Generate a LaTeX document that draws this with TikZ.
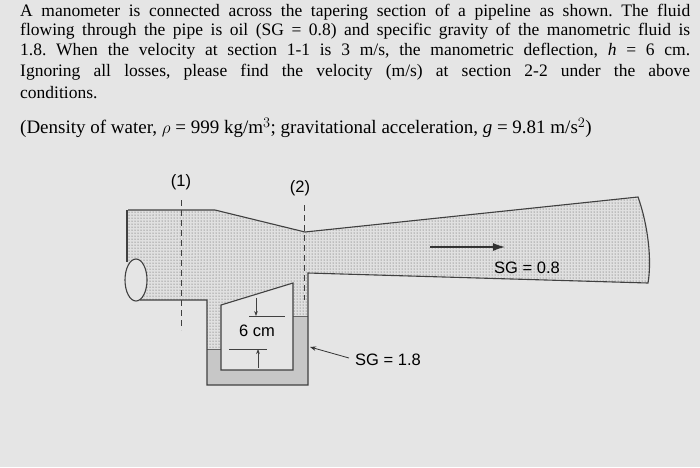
\documentclass[tikz,border=0pt]{standalone}
\usepackage{fontspec}
\setmainfont{Liberation Serif}
\setsansfont{Liberation Sans}
\usetikzlibrary{patterns,arrows.meta}
\begin{document}
\frenchspacing
\begin{tikzpicture}[x=1pt,y=-1pt,
  txt/.style={anchor=west,inner sep=0pt,font=\fontsize{17.5}{20}\selectfont},
  lab/.style={inner sep=1pt,font=\sffamily\fontsize{16.5}{18}\selectfont},
  outl/.style={draw=black!75,line width=1.1pt},
  sect/.style={draw=black!75,dash pattern=on 6pt off 4pt,line width=0.8pt}]
\fill[black!10] (0,0) rectangle (700,467);
\useasboundingbox (0,0) rectangle (700,467);
% text
\node[txt] (t1) at (20,12) {\makebox[670pt][s]{A manometer is connected across the tapering section of a pipeline as shown. The fluid}};
\node[txt] (t2) at (20,31) {\makebox[670pt][s]{flowing through the pipe is oil (SG = 0.8) and specific gravity of the manometric fluid is}};
\node[txt] (t3) at (20,51) {\makebox[670pt][s]{1.8. When the velocity at section 1-1 is 3 m/s, the manometric deflection, \textit{h} = 6 cm.}};
\node[txt] (t4) at (20,72) {\makebox[670pt][s]{Ignoring all losses, please find the velocity (m/s) at section 2-2 under the above}};
\node[txt] (t5) at (20,93) {conditions.};
\node[txt,font=\fontsize{19}{22}\selectfont] (t6) at (20,128) {(Density of water, $\rho$ = 999 kg/m$^3$; gravitational acceleration, \textit{g} = 9.81 m/s$^2$)};
% oil
\fill[black!12,postaction={pattern=dots,pattern color=black!70}]
 (128,210)--(215,210)--(305,232)--(638,197) .. controls (648,225) and (652,260) .. (648,283)
 --(308,273)--(308,316)--(293,316)--(293,283)--(221,305)--(221,349)--(207,349)--(207,300)--(135,300)
 --(127,290)--(127,210)--cycle;
% manometric fluid
\fill[black!22] (207,349)--(221,349)--(221,370)--(293,370)--(293,316)--(308,316)--(308,385)--(207,385)--cycle;
\draw[black!60,line width=0.8pt] (207,349)--(221,349) (293,316)--(308,316);
% outline
\draw[outl] (128,210)--(215,210)--(305,232)--(638,197) .. controls (648,225) and (652,260) .. (648,283)
 --(308,273)--(308,385)--(207,385)--(207,300)--(140,300);
\draw[outl] (127,210)--(127,262);
\draw[outl,fill=black!10] (136,280) ellipse [x radius=11,y radius=21];
\draw[outl] (221,305)--(293,283)--(293,370)--(221,370)--cycle;
% sections
\coordinate (s1a) at (181,200); \coordinate (s1b) at (181,330);
\coordinate (s2a) at (304,205); \coordinate (s2b) at (304,300);
\draw[sect] (s1a)--(s1b);
\draw[sect] (s2a)--(s2b);
\node[lab] (n1) at (181,182) {(1)};
\node[lab] (n2) at (300,188) {(2)};
% dimension
\coordinate (d1a) at (249,316); \coordinate (d1b) at (285,316);
\coordinate (d2a) at (229,349); \coordinate (d2b) at (267,349);
\draw[black!75,line width=0.8pt] (d1a)--(d1b) (d2a)--(d2b);
\draw[black!75,line width=0.8pt,-{Stealth[length=5pt]}] (256,298)--(256,316);
\draw[black!75,line width=0.8pt,-{Stealth[length=5pt]}] (258,368)--(258,349);
\node[lab] (h) at (257,331) {6 cm};
% flow
\coordinate (fa) at (430,247); \coordinate (fb) at (505,247);
\draw[black!80,line width=1.2pt,-{Latex[length=12pt,width=8pt]}] (fa)--(fb);
\node[lab] (sg8) at (527,268) {SG = 0.8};
\node[lab] (sg18) at (388,360) {SG = 1.8};
\coordinate (lp) at (310,347);
\draw[black!80,line width=0.8pt,-{Stealth[length=6pt]}] (sg18.west)+(-5,-2) -- (lp);
\end{tikzpicture}
\end{document}
